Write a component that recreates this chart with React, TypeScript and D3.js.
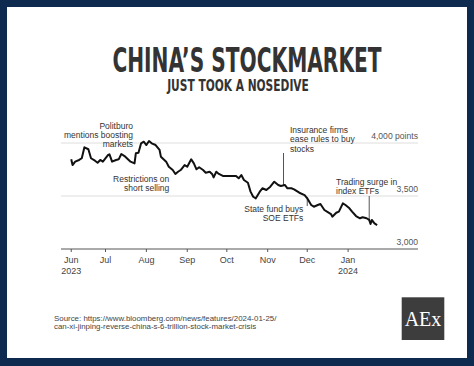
import React from "react";
import * as d3 from "d3";

const dates: string[] = [
  "2023-06-05","2023-06-06","2023-06-08","2023-06-11","2023-06-13","2023-06-15","2023-06-18","2023-06-20",
  "2023-06-23","2023-06-25","2023-06-27","2023-06-29","2023-07-03","2023-07-04","2023-07-06","2023-07-09",
  "2023-07-11","2023-07-13","2023-07-16","2023-07-20","2023-07-23","2023-07-24","2023-07-26","2023-07-28",
  "2023-07-30","2023-08-01","2023-08-03","2023-08-05","2023-08-08","2023-08-11","2023-08-12","2023-08-16",
  "2023-08-18","2023-08-21","2023-08-23","2023-08-25","2023-08-27","2023-08-30","2023-09-01","2023-09-04",
  "2023-09-06","2023-09-08","2023-09-10","2023-09-13","2023-09-15","2023-09-18","2023-09-20","2023-09-21",
  "2023-09-23","2023-09-25","2023-09-28","2023-10-08","2023-10-10","2023-10-12","2023-10-14","2023-10-17",
  "2023-10-19","2023-10-21","2023-10-23","2023-10-26","2023-10-28","2023-10-31","2023-11-03","2023-11-06",
  "2023-11-09","2023-11-11","2023-11-14","2023-11-16","2023-11-19","2023-11-21","2023-11-25","2023-11-29",
  "2023-12-01","2023-12-04","2023-12-06","2023-12-09","2023-12-11","2023-12-14","2023-12-16","2023-12-19",
  "2023-12-20","2023-12-23","2023-12-25","2023-12-28","2023-12-30","2024-01-02","2024-01-04","2024-01-07",
  "2024-01-10","2024-01-12","2024-01-15","2024-01-17","2024-01-18","2024-01-19","2024-01-21","2024-01-23",
];
const values: number[] = [
  3846,3792,3824,3840,3856,3959,3941,3856,
  3833,3814,3840,3824,3887,3893,3824,3840,
  3846,3896,3871,3824,3808,3903,3908,3997,
  4012,3981,4019,3997,3981,3934,3871,3824,
  3776,3745,3708,3729,3745,3792,3776,3846,
  3808,3752,3771,3745,3720,3729,3705,3676,
  3729,3708,3689,3689,3667,3698,3651,3625,
  3541,3493,3478,3541,3573,3557,3588,3635,
  3604,3594,3604,3573,3573,3563,3531,3509,
  3478,3415,3399,3415,3425,3368,3352,3330,
  3305,3342,3352,3431,3415,3384,3352,3311,
  3290,3299,3290,3274,3236,3274,3242,3226,
];

const tickDates: string[] = ["2023-06-05","2023-07-01","2023-08-01","2023-09-01","2023-10-01","2023-11-01","2023-12-01","2024-01-01"];
const tickMonths: string[] = ["Jun","Jul","Aug","Sep","Oct","Nov","Dec","Jan"];
const tickYears: string[] = ["2023","","","","","","","2024"];
const yTicks: number[] = [4000, 3500, 3000];
const yTickLabels: string[] = ["4,000 points", "3,500", "3,000"];

const parse = d3.timeParse("%Y-%m-%d");

export default function App() {
  const W = 474, H = 366;
  const x = d3.scaleTime()
    .domain([parse("2023-05-29")!, parse("2024-02-23")!])
    .range([62, 418]);
  const y = d3.scaleLinear().domain([3000, 4000]).range([249, 143]);
  const data = dates.map((d, i) => ({ date: parse(d)!, v: values[i] }));
  const line = d3.line<{ date: Date; v: number }>().x(d => x(d.date)).y(d => y(d.v));
  const sans = "'Liberation Sans', Arial, Helvetica, sans-serif";
  const narrow = "'Liberation Sans Narrow', 'DejaVu Sans Condensed', sans-serif";
  const annColor = "#333";
  const xIns = x(parse("2023-11-13")!);
  const xSoe = x(parse("2023-12-01")!);
  const xTrd = x(parse("2024-01-17")!);

  return (
    <svg width={W} height={H} style={{ position: "absolute", left: 0, top: 0 }}>
      <rect x={0} y={0} width={W} height={H} fill="#0e2a4f" />
      <rect x={7} y={7} width={460} height={351} fill="#ffffff" />

      <g transform="translate(247,72) scale(0.68,1)">
        <text x={0} y={0} textAnchor="middle" fontFamily={narrow} fontWeight="bold" fontSize={33} fill="#333">CHINA’S STOCKMARKET</text>
      </g>
      <g transform="translate(238,91) scale(0.79,1)">
        <text x={0} y={0} textAnchor="middle" fontFamily={narrow} fontWeight="bold" fontSize={15} fill="#333">JUST TOOK A NOSEDIVE</text>
      </g>

      {yTicks.map((t, i) => (
        <g key={t}>
          {t !== 3000 && <line x1={61} x2={418} y1={y(t)} y2={y(t)} stroke="#dedede" strokeWidth={1} />}
          <text x={418} y={y(t) - 4} textAnchor="end" fontFamily={sans} fontSize={8.6} fill="#555">{yTickLabels[i]}</text>
        </g>
      ))}

      <line x1={61} x2={418} y1={y(3000)} y2={y(3000)} stroke="#555" strokeWidth={1} />
      {tickDates.map((d, i) => {
        const tx = x(parse(d)!);
        return (
          <g key={d}>
            <line x1={tx} x2={tx} y1={y(3000)} y2={y(3000) + 3} stroke="#555" strokeWidth={1} />
            <text x={tx} y={263} textAnchor="middle" fontFamily={sans} fontSize={9} fill="#444">{tickMonths[i]}</text>
            {tickYears[i] && <text x={tx} y={274} textAnchor="middle" fontFamily={sans} fontSize={9} fill="#444">{tickYears[i]}</text>}
          </g>
        );
      })}

      {/* leader lines */}
      <line x1={xIns} x2={xIns} y1={153} y2={186} stroke="#555" strokeWidth={1} />
      <line x1={xSoe} x2={xSoe} y1={197} y2={206} stroke="#555" strokeWidth={1} />
      <line x1={xTrd} x2={xTrd} y1={196} y2={221} stroke="#555" strokeWidth={1} />

      <path d={line(data) || ""} fill="none" stroke="#111" strokeWidth={2} strokeLinejoin="round" />

      <g fontFamily={sans} fontSize={8.5} fill={annColor}>
        <text x={133} y={128.5} textAnchor="end">Politburo</text>
        <text x={133} y={138} textAnchor="end">mentions boosting</text>
        <text x={133} y={147.3} textAnchor="end">markets</text>

        <text x={169.3} y={181.5} textAnchor="end">Restrictions on</text>
        <text x={169.3} y={190.5} textAnchor="end">short selling</text>

        <text x={290} y={133} textAnchor="start">Insurance firms</text>
        <text x={290} y={142.3} textAnchor="start">ease rules to buy</text>
        <text x={290} y={151.7} textAnchor="start">stocks</text>

        <text x={303.3} y={212.3} textAnchor="end">State fund buys</text>
        <text x={303.3} y={221.3} textAnchor="end">SOE ETFs</text>

        <text x={336} y={184.7} textAnchor="start">Trading surge in</text>
        <text x={336} y={193.7} textAnchor="start">index ETFs</text>
      </g>

      <g fontFamily={sans} fontSize={7.9} fill="#444">
        <text x={54} y={320.8}>Source: https://www.bloomberg.com/news/features/2024-01-25/</text>
        <text x={54} y={328.6}>can-xi-jinping-reverse-china-s-6-trillion-stock-market-crisis</text>
      </g>

      <rect x={401.7} y={297.3} width={42.6} height={42.7} fill="#3d3d3d" />
      <text x={423} y={326} textAnchor="middle" fontFamily="'Liberation Serif', 'DejaVu Serif', serif" fontSize={20} fill="#ffffff">AEx</text>
    </svg>
  );
}
